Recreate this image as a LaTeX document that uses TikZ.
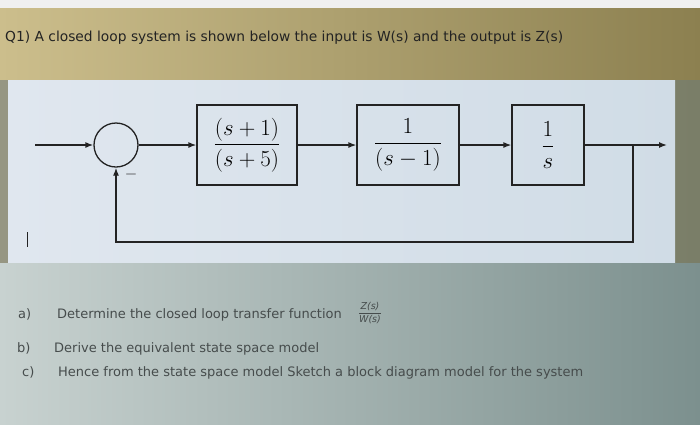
\RequirePackage{fix-cm}
\documentclass[tikz,border=0pt]{standalone}
\usepackage{amsmath}
\usepackage{fontspec}
\newfontfamily\dv{DejaVu Sans}
\usetikzlibrary{arrows.meta}

\definecolor{tanL}{RGB}{204,190,140}
\definecolor{tanD}{RGB}{140,128,80}
\definecolor{panelL}{RGB}{224,231,239}
\definecolor{panelM}{RGB}{242,245,249}
\definecolor{panelR}{RGB}{208,220,230}
\definecolor{edgeL}{RGB}{150,150,130}
\definecolor{edgeR}{RGB}{122,126,104}
\definecolor{lowL}{RGB}{200,210,208}
\definecolor{lowD}{RGB}{124,144,142}
\definecolor{ink}{RGB}{35,35,35}
\definecolor{inkb}{RGB}{70,76,76}

\begin{document}
\begin{tikzpicture}[x=1pt,y=-1pt,
  blk/.style={draw=ink,line width=1.3pt,minimum width=100pt,minimum height=80pt,inner sep=0pt,font=\fontsize{23}{27}\selectfont},
  sig/.style={draw=ink,line width=1.3pt,-{Latex[length=8pt,width=6pt]}},
  txt/.style={anchor=base west,inner sep=0pt,text=inkb,font=\dv\fontsize{13}{15}\selectfont}]
\useasboundingbox (0,0) rectangle (700,424);
%\draw[step=50,gray,very thin] (0,0) grid (700,424); %background grid

%---------------------------------------------------
\fill[left color=tanL,right color=tanD] (0,0) rectangle (700,80);
\fill[gray!12] (0,0) rectangle (700,8);
\fill[left color=lowL,right color=lowD] (0,262) rectangle (700,424);
\fill[left color=edgeL,right color=edgeR] (0,80) rectangle (700,262);
\fill[left color=panelL,middle color=panelM,right color=panelR] (8,80) rectangle (675,262);

\node[txt,text=ink,font=\dv\fontsize{13.8}{16}\selectfont] (q) at (5,41) {Q1) A closed loop system is shown below the input is W(s) and the output is Z(s)};

%---------------------------------------------------
\node[draw=ink,line width=1.3pt,circle,minimum size=44pt,inner sep=0pt] (sum) at (116,145) {};
\node[blk] (g1) at (247,145) {$\dfrac{(s+1)}{(s+5)}$};
\node[blk,minimum width=102pt] (g2) at (408,145) {$\dfrac{1}{(s-1)}$};
\node[blk,minimum width=72pt] (g3) at (548,145) {$\dfrac{1}{s}$};
\node[text=ink,font=\fontsize{16}{18}\selectfont] (minus) at (131,174) {$-$};

\coordinate (in) at (35,145);
\coordinate (br) at (633,145);
\coordinate (out) at (667,145);
\coordinate (fb) at (633,242);

\draw[sig] (in) -- (sum);
\draw[sig] (sum) -- (g1);
\draw[sig] (g1) -- (g2);
\draw[sig] (g2) -- (g3);
\draw[sig] (g3) -- (out);
\draw[sig] (br) -- (fb) -| (sum);

\draw[ink,line width=1pt] (27,232) -- (27,247);

%---------------------------------------------------
\node[txt] (la) at (18,318) {a)};
\node[txt] (ta) at (57,318) {Determine the closed loop transfer function};
\node[text=inkb,font=\dv\fontsize{9.5}{11}\selectfont] (tf) at (370,313) {$\dfrac{\text{\itshape Z(s)}}{\text{\itshape W(s)}}$};
\node[txt] (lb) at (17,352) {b)};
\node[txt] (tb) at (54,352) {Derive the equivalent state space model};
\node[txt] (lc) at (22,376) {c)};
\node[txt] (tc) at (58,376) {Hence from the state space model Sketch a block diagram model for the system};

\end{tikzpicture}
\end{document}
